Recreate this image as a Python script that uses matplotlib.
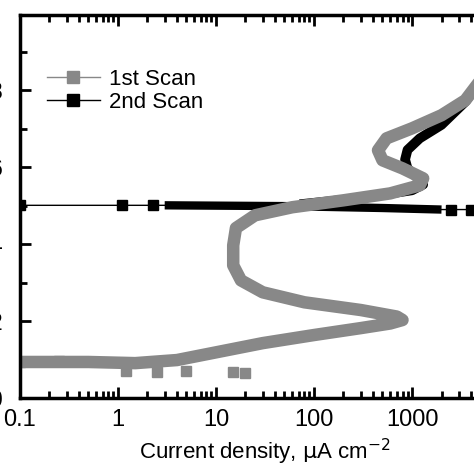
import matplotlib.pyplot as plt
import numpy as np

plt.rcParams['font.family'] = ['Liberation Sans', 'DejaVu Sans']
plt.rcParams['axes.unicode_minus'] = False

# 1st scan (gray): current uA/cm2, potential
i1 = [0.1, 0.5, 1.5, 4, 10, 30, 100, 300, 600, 800, 700, 300, 80, 30, 18, 15, 15, 16, 25, 60,
      200, 600, 1200, 1300, 800, 500, 450, 550, 1000, 2000, 3500, 5000]
e1 = [0.094, 0.094, 0.091, 0.099, 0.119, 0.143, 0.164, 0.182, 0.194, 0.203, 0.212, 0.229, 0.249,
      0.275, 0.306, 0.345, 0.397, 0.442, 0.475, 0.496, 0.514, 0.532, 0.553, 0.571, 0.597,
      0.618, 0.644, 0.675, 0.701, 0.735, 0.774, 0.826]
i1_pts = [0.1, 0.25, 1.2, 2.5, 5, 15, 20]
e1_pts = [0.094, 0.097, 0.07, 0.068, 0.07, 0.068, 0.066]

# 2nd scan (black)
i2_line = [0.1, 1.1, 2.3, 3, 50, 500, 2000, 2500, 4000]
e2_line = [0.501, 0.501, 0.501, 0.501, 0.499, 0.494, 0.49, 0.49, 0.49]
i2_pts = [0.1, 1.1, 2.3, 2500, 4000]
e2_pts = [0.501, 0.501, 0.501, 0.49, 0.49]
i2 = [80, 300, 1000, 1300, 1100, 900, 850, 900, 1200, 2000, 3500, 5000]
e2 = [0.505, 0.52, 0.54, 0.555, 0.575, 0.597, 0.62, 0.645, 0.675, 0.71, 0.77, 0.826]

fig = plt.figure(figsize=(4.74, 4.74), dpi=100)
ax = fig.add_axes([0.042, 0.160, 1.034, 0.808])

ax.plot(i2_line, e2_line, color='k', lw=1)
ax.plot(np.array(i2_line)[3:7], np.array(e2_line)[3:7], color='k', lw=6, solid_capstyle='butt')
ax.plot(i2_pts, e2_pts, 's', color='k', ms=7)
ax.plot(i2, e2, color='k', lw=7)
ax.plot(i1, e1, color='#888888', lw=9, solid_joinstyle='round')
ax.plot(i1_pts, e1_pts, 's', color='#888888', ms=7)

ax.plot([], [], '-s', color='#888888', ms=9, lw=1, label='1st Scan')
ax.plot([], [], '-s', color='k', ms=9, lw=1, label='2nd Scan')
ax.legend(loc='upper left', bbox_to_anchor=(0.0, 0.93), frameon=False, fontsize=16,
          handlelength=2.4, labelspacing=0.1, borderaxespad=0.8, handletextpad=0.4)

ax.set_xscale('log')
ax.set_xlim(0.1, 1e4)
ax.set_ylim(0, 0.995)
ax.set_yticks([0, 0.2, 0.4, 0.6, 0.8])
ax.set_yticks(np.arange(0.1, 1.0, 0.2), minor=True)
ax.set_yticklabels(['0.0', '0.2', '0.4', '0.6', '0.8'])
ax.set_xticks([0.1, 1, 10, 100, 1000])
ax.set_xticklabels(['0.1', '1', '10', '100', '1000'])
ax.tick_params(which='both', direction='in', top=True, right=True, labelsize=17, width=2)
ax.tick_params(which='major', length=8, pad=8)
ax.tick_params(which='minor', length=5)
ax.tick_params(axis='y', pad=12)
for s in ax.spines.values():
    s.set_linewidth(2.5)
ax.set_xlabel('Current density, $\\mathrm{\\mu}$A cm$^{\\mathrm{-2}}$', fontsize=16, labelpad=4)

fig.savefig('out.png', dpi=100)
